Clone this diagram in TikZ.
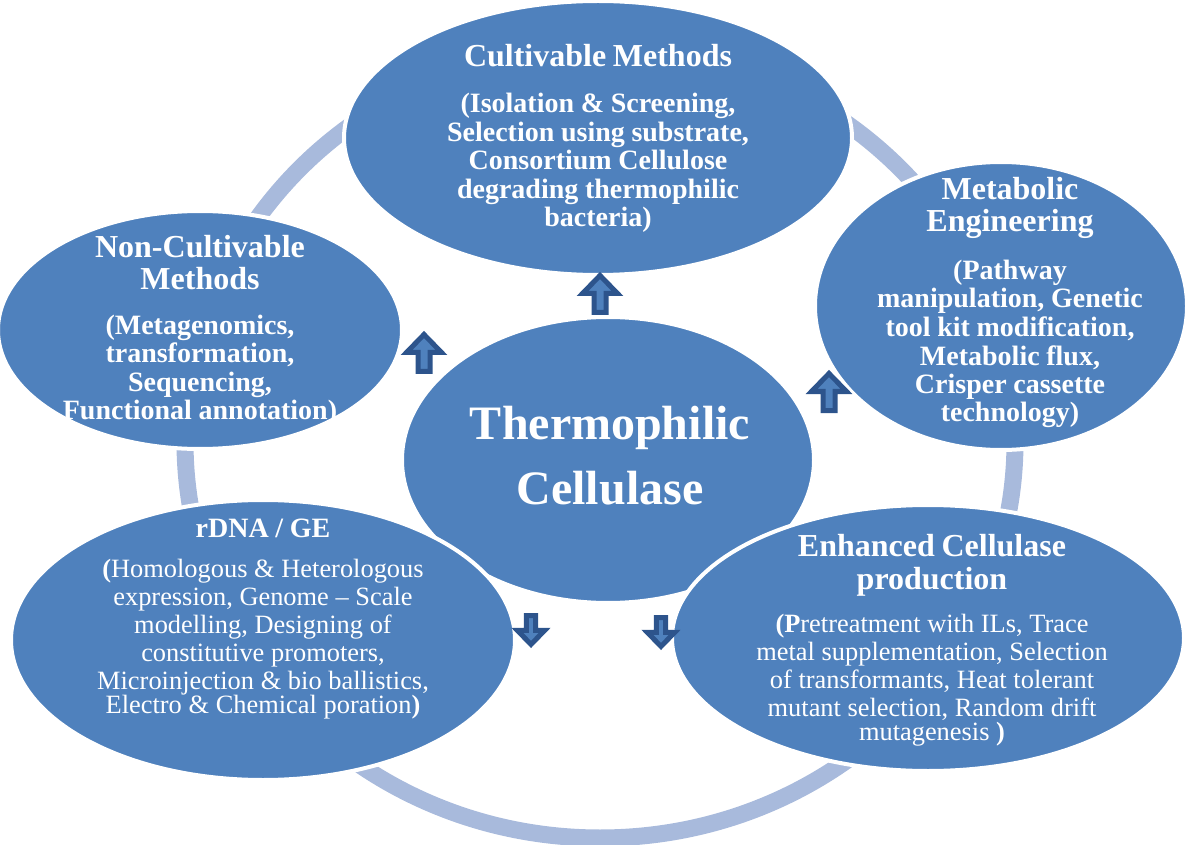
\documentclass[tikz,border=0pt]{standalone}
\usepackage{fontspec}
\setmainfont{Liberation Serif}
\usepackage{xcolor}
\usetikzlibrary{shapes.geometric}
\definecolor{cyblue}{RGB}{79,129,189}
\definecolor{cyringcol}{RGB}{168,186,220}
\definecolor{cydark}{RGB}{45,84,140}
\newcommand{\cyhead}{\bfseries\fontsize{16}{16.3}\selectfont}
\newcommand{\cybody}{\bfseries\fontsize{14}{14.3}\selectfont}
\newcommand{\cyplain}{\mdseries\fontsize{13.2}{14}\selectfont}
\tikzset{
  cyblob/.style={ellipse, fill=cyblue, draw=white, line width=2pt, inner sep=0pt},
  ringband/.style={line width=8.5pt, draw=cyringcol},
  cytext/.style={text=white, align=center, text width=240pt, inner sep=0pt},
  cyarrow/.pic={
    \draw[line width=2.5pt, draw=cydark, fill=cyblue, line join=miter]
      (0,-18.5) -- (17.5,-0.5) -- (6,-0.5) -- (6,18.5) -- (-6,18.5) -- (-6,-0.5) -- (-17.5,-0.5) -- cycle;
  },
}
\begin{document}
\begin{tikzpicture}[x=0.5pt, y=-0.5pt]
\useasboundingbox (0,0) rectangle (1200,845);
\draw[ringband] (600,442) ellipse [x radius=415, y radius=396];
\node[cyblob, minimum width=206pt, minimum height=143pt] (therm) at (608,460) {};
\node[cyblob, minimum width=254pt, minimum height=137pt] (cult) at (598,138) {};
\node[cyblob, minimum width=202pt, minimum height=119pt] (noncult) at (200,330) {};
\node[cyblob, minimum width=186pt, minimum height=144pt] (metab) at (1001,306) {};
\node[cyblob, minimum width=252pt, minimum height=140pt] (rdna) at (263,640) {};
\node[cyblob, minimum width=256pt, minimum height=133pt] (enh) at (928,638) {};

\node[cytext, font=\bfseries\fontsize{24}{32.5}\selectfont] (therm-t) at (610,456) {Thermophilic\\Cellulase};
\node[cytext] (cult-t) at (598,138) {\cyhead Cultivable Methods\par\vspace{9pt}
  \cybody (Isolation \& Screening,\\Selection using substrate,\\Consortium Cellulose\\degrading thermophilic\\bacteria)};
\node[cytext] (noncult-t) at (200,330) {\cyhead Non-Cultivable\\Methods\par\vspace{8pt}
  \cybody (Metagenomics,\\transformation,\\Sequencing,\\Functional annotation)};
\node[cytext] (metab-t) at (1010,302) {\cyhead Metabolic\\Engineering\par\vspace{9.5pt}
  \cybody (Pathway\\manipulation, Genetic\\tool kit modification,\\Metabolic flux,\\Crisper cassette\\technology)};
\node[cytext] (rdna-t) at (263,619) {\bfseries\fontsize{14}{14}\selectfont rDNA / GE\par\vspace{6pt}
  \cyplain{\bfseries(}Homologous \& Heterologous\\expression, Genome -- Scale\\modelling, Designing of\\constitutive promoters,\\Microinjection \& bio ballistics,\\Electro \& Chemical poration{\bfseries)}};
\node[cytext] (enh-t) at (932,640) {\cyhead Enhanced Cellulase\\production\par\vspace{7.5pt}
  \cyplain{\bfseries(P}retreatment with ILs, Trace\\metal supplementation, Selection\\of transformants, Heat tolerant\\mutant selection, Random drift\\mutagenesis {\bfseries)}};

\pic at (424,353) {cyarrow};
\pic at (600,294) {cyarrow};
\pic at (829,392) {cyarrow};
\pic[rotate=180, scale=0.78] at (531,630) {cyarrow};
\pic[rotate=180, scale=0.78] at (661,632) {cyarrow};
\end{tikzpicture}
\end{document}
